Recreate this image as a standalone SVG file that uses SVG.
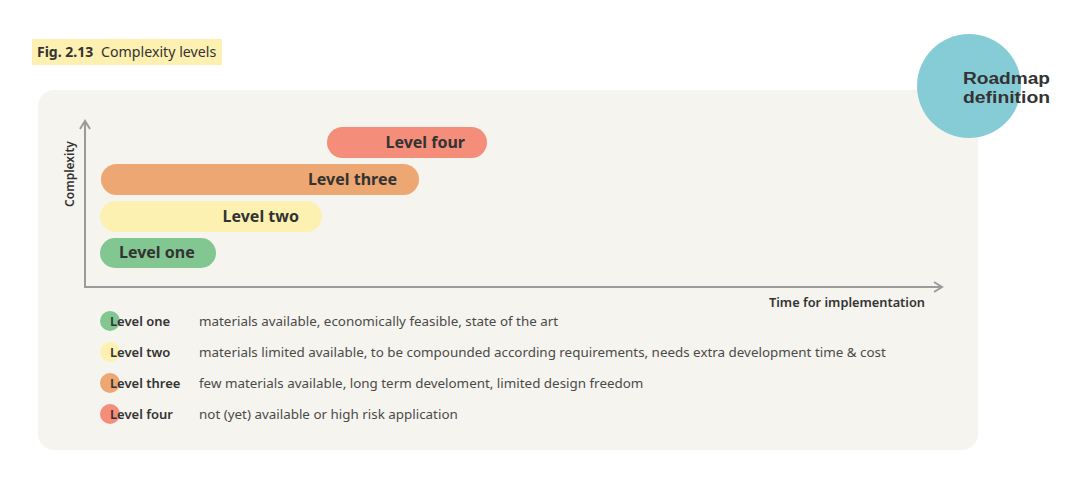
<svg xmlns="http://www.w3.org/2000/svg" width="1073" height="484" viewBox="0 0 1073 484">
<style>
text{font-family:"Noto Sans","Liberation Sans",sans-serif;fill:#333}
.bar text{font-size:16px;font-weight:700}
.lg{font-size:13px;font-weight:600}
.ds{font-size:13.4px;fill:#4a4a4a}
.ax{stroke:#9b9b9b;stroke-width:2;fill:none}
.rm{font-family:"Liberation Sans","Noto Sans",sans-serif;font-size:16px;font-weight:700}
</style>
<defs>
<marker id="ah" viewBox="0 0 12 12" refX="10" refY="6" markerWidth="12" markerHeight="12" markerUnits="userSpaceOnUse" orient="auto">
<path d="M2,1 L10,6 L2,11" fill="none" stroke="#9b9b9b" stroke-width="2"/>
</marker>
</defs>
<rect width="1073" height="484" fill="#ffffff"/>
<g id="title">
<rect x="32" y="39" width="190" height="26" fill="#fdf0b0"/>
<text x="37" y="57" style="font-size:14px;font-weight:700">Fig. 2.13</text>
<text x="101" y="57" style="font-size:14.2px">Complexity levels</text>
</g>
<rect id="panel" x="38" y="90" width="940" height="360" rx="16" fill="#f6f4ee"/>
<g id="roadmap">
<circle cx="969" cy="86" r="52" fill="#86ccd6"/>
<text class="rm" x="963" y="84" textLength="87" lengthAdjust="spacingAndGlyphs">Roadmap</text>
<text class="rm" x="963" y="103" textLength="87" lengthAdjust="spacingAndGlyphs">definition</text>
</g>
<g id="connectors">
<line class="ax" x1="85" y1="287" x2="85" y2="121" marker-end="url(#ah)"/>
<line class="ax" x1="84" y1="287" x2="942" y2="287" marker-end="url(#ah)"/>
</g>
<text transform="translate(74,174) rotate(-90)" text-anchor="middle" style="font-size:12px;font-weight:600">Complexity</text>
<text x="925" y="307" text-anchor="end" style="font-size:12.8px;font-weight:600">Time for implementation</text>
<g id="level-four" class="bar">
<rect x="327" y="127" width="160" height="31" rx="15.5" fill="#f48e7a"/>
<text x="465" y="148" text-anchor="end">Level four</text>
</g>
<g id="level-three" class="bar">
<rect x="101" y="164" width="318" height="31" rx="15.5" fill="#eda772"/>
<text x="397" y="185" text-anchor="end">Level three</text>
</g>
<g id="level-two" class="bar">
<rect x="100" y="201" width="222" height="31" rx="15.5" fill="#fdf1b2"/>
<text x="299" y="222" text-anchor="end">Level two</text>
</g>
<g id="level-one" class="bar">
<rect x="100" y="238" width="116" height="30" rx="15" fill="#82c692"/>
<text x="119" y="258">Level one</text>
</g>
<g id="legend-one">
<circle cx="110" cy="321" r="10" fill="#82c692"/>
<text class="lg" x="110" y="325.5">Level one</text>
<text class="ds" x="199" y="325.5">materials available, economically feasible, state of the art</text>
</g>
<g id="legend-two">
<circle cx="110" cy="352" r="10" fill="#fdf1b2"/>
<text class="lg" x="110" y="356.5">Level two</text>
<text class="ds" x="199" y="356.5">materials limited available, to be compounded according requirements, needs extra development time &amp; cost</text>
</g>
<g id="legend-three">
<circle cx="110" cy="383" r="10" fill="#eda772"/>
<text class="lg" x="110" y="387.5">Level three</text>
<text class="ds" x="199" y="387.5">few materials available, long term develoment, limited design freedom</text>
</g>
<g id="legend-four">
<circle cx="110" cy="414" r="10" fill="#f48e7a"/>
<text class="lg" x="110" y="418.5">Level four</text>
<text class="ds" x="199" y="418.5">not (yet) available or high risk application</text>
</g>
</svg>
